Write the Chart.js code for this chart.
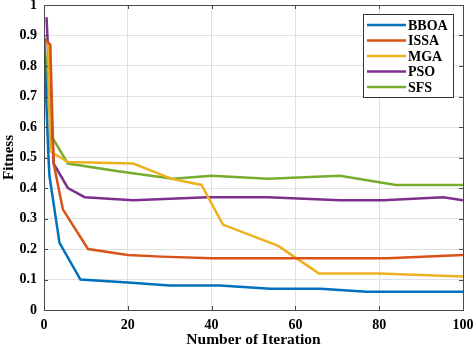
<!DOCTYPE html>
<html>
<head>
<meta charset="utf-8">
<script src="https://cdn.jsdelivr.net/npm/chart.js@4/dist/chart.umd.min.js"></script>
<style>
  html, body { margin: 0; padding: 0; background: #fff; }
  #wrap { width: 474px; height: 349px; }
</style>
</head>
<body>
<div id="wrap"><canvas id="fit"></canvas></div>
<script>
// convergence curves, iteration vs fitness
const names = ["BBOA", "ISSA", "MGA", "PSO", "SFS"];
const colors = ["#0072BD", "#D95319", "#EDB120", "#7E2F8E", "#77AC30"];

const bboaIter = [0, 1, 1.3, 3.7, 8.7, 20, 30, 42, 54, 66, 77, 100];
const bboaFit  = [0.89, 0.52, 0.44, 0.22, 0.10, 0.09, 0.08, 0.08, 0.07, 0.07, 0.06, 0.06];

const issaIter = [0, 1.5, 2.3, 4.5, 10.5, 20, 28, 40, 82, 100];
const issaFit  = [0.89, 0.87, 0.48, 0.33, 0.20, 0.18, 0.175, 0.17, 0.17, 0.18];

const mgaIter = [0, 1, 1.5, 5.7, 21.3, 30.5, 37.6, 42.7, 55.9, 65.6, 80, 100];
const mgaFit  = [0.89, 0.87, 0.52, 0.485, 0.48, 0.43, 0.41, 0.28, 0.21, 0.12, 0.12, 0.11];

const psoIter = [0.6, 2.3, 5.7, 9.7, 21.3, 39, 53.5, 70.6, 81, 95.3, 100];
const psoFit  = [0.96, 0.48, 0.40, 0.37, 0.36, 0.37, 0.37, 0.36, 0.36, 0.37, 0.36];

const sfsIter = [0, 1.8, 5.7, 17.7, 30.8, 40, 53.5, 70.6, 84, 100];
const sfsFit  = [0.90, 0.57, 0.48, 0.455, 0.43, 0.44, 0.43, 0.44, 0.41, 0.41];

const xTicks = [0, 20, 40, 60, 80, 100];
const yTicks = [0, 0.1, 0.2, 0.3, 0.4, 0.5, 0.6, 0.7, 0.8, 0.9, 1];

const iters = [bboaIter, issaIter, mgaIter, psoIter, sfsIter];
const fits = [bboaFit, issaFit, mgaFit, psoFit, sfsFit];

const serif = "'Liberation Serif', 'Times New Roman', serif";
const axisColor = "#4a4a4a";

function pairUp(xs, ys) {
  return xs.map((x, i) => ({ x: x, y: ys[i] }));
}

// box around the axes plus inward tick marks
const boxPlugin = {
  id: "box",
  afterDatasetsDraw(chart) {
    const { ctx, chartArea: a, scales } = chart;
    ctx.save();
    ctx.strokeStyle = axisColor;
    ctx.lineWidth = 1;
    ctx.strokeRect(a.left + 0.5, a.top + 0.5, a.right - a.left, a.bottom - a.top);
    ctx.beginPath();
    xTicks.forEach(t => {
      const px = Math.round(scales.x.getPixelForValue(t)) + 0.5;
      ctx.moveTo(px, a.bottom); ctx.lineTo(px, a.bottom - 4);
      ctx.moveTo(px, a.top); ctx.lineTo(px, a.top + 4);
    });
    yTicks.forEach(t => {
      const py = Math.round(scales.y.getPixelForValue(t)) + 0.5;
      ctx.moveTo(a.left, py); ctx.lineTo(a.left + 4, py);
      ctx.moveTo(a.right, py); ctx.lineTo(a.right - 4, py);
    });
    ctx.stroke();
    ctx.restore();
  },
  afterDraw(chart) {
    // legend in the top right corner
    const { ctx } = chart;
    const bx = 363, by = 14, bw = 90, bh = 83;
    ctx.save();
    ctx.fillStyle = "#fff";
    ctx.fillRect(bx, by, bw, bh);
    ctx.strokeStyle = "#333";
    ctx.lineWidth = 1;
    ctx.strokeRect(bx + 0.5, by + 0.5, bw, bh);
    ctx.font = "bold 14px " + serif;
    ctx.textBaseline = "middle";
    chart.data.datasets.forEach((ds, i) => {
      const y = by + 11 + i * 15.5;
      ctx.strokeStyle = ds.borderColor;
      ctx.lineWidth = 2.5;
      ctx.beginPath();
      ctx.moveTo(bx + 4, y);
      ctx.lineTo(bx + 43, y);
      ctx.stroke();
      ctx.fillStyle = "#000";
      ctx.fillText(ds.label, bx + 45, y + 1);
    });
    ctx.restore();
  }
};

new Chart(document.getElementById("fit"), {
  type: "line",
  data: {
    datasets: names.map((n, i) => ({
      label: n,
      data: pairUp(iters[i], fits[i]),
      borderColor: colors[i],
      backgroundColor: colors[i],
      borderWidth: 2.5,
      pointRadius: 0,
      tension: 0,
      fill: false
    }))
  },
  options: {
    responsive: true,
    maintainAspectRatio: false,
    animation: false,
    layout: { padding: { top: 5, right: 11, left: 0, bottom: 0 } },
    plugins: {
      legend: { display: false },
      tooltip: { enabled: false }
    },
    scales: {
      x: {
        type: "linear",
        min: 0,
        max: 100,
        afterBuildTicks: s => { s.ticks = xTicks.map(v => ({ value: v })); },
        afterFit: s => {
          s.height = 39;
          s.paddingLeft = 0;
          s.paddingRight = 0;
        },
        grid: { color: "#e0e0e0", drawTicks: false },
        border: { display: false },
        ticks: {
          padding: 7,
          color: "#000",
          font: { family: serif, size: 14, weight: "bold" }
        },
        title: {
          display: true,
          text: "Number of Iteration",
          color: "#000",
          padding: { top: 4, bottom: 0 },
          font: { family: serif, size: 15.5, weight: "bold" }
        }
      },
      y: {
        min: 0,
        max: 1,
        afterBuildTicks: s => { s.ticks = yTicks.map(v => ({ value: v })); },
        afterFit: s => {
          s.width = 44;
          s.paddingTop = 0;
          s.paddingBottom = 0;
        },
        grid: { color: "#e0e0e0", drawTicks: false },
        border: { display: false },
        ticks: {
          padding: 7,
          color: "#000",
          font: { family: serif, size: 14, weight: "bold" },
          callback: v => String(Math.round(v * 10) / 10)
        },
        title: {
          display: true,
          text: "Fitness",
          color: "#000",
          padding: { top: 0, bottom: 0 },
          font: { family: serif, size: 15, weight: "bold" }
        }
      }
    }
  },
  plugins: [boxPlugin]
});
</script>
</body>
</html>
